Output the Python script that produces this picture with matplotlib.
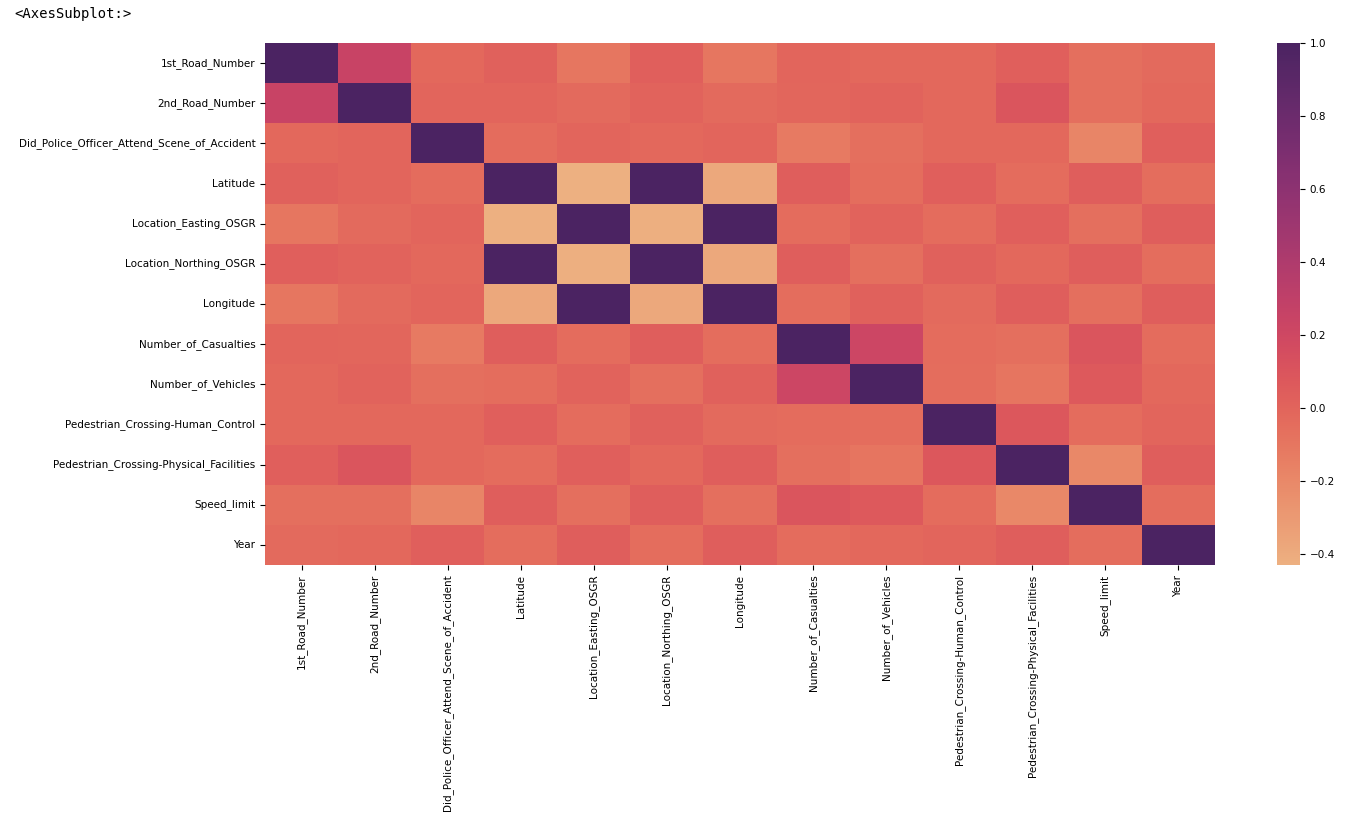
import numpy as np
import pandas as pd
import matplotlib
matplotlib.use("Agg")
import matplotlib.pyplot as plt
import seaborn as sns

cols = ["1st_Road_Number", "2nd_Road_Number", "Did_Police_Officer_Attend_Scene_of_Accident",
        "Latitude", "Location_Easting_OSGR", "Location_Northing_OSGR", "Longitude",
        "Number_of_Casualties", "Number_of_Vehicles", "Pedestrian_Crossing-Human_Control",
        "Pedestrian_Crossing-Physical_Facilities", "Speed_limit", "Year"]

# upper triangle of the correlation matrix, row by row
upper = [
    [0.25, -0.02, 0.02, -0.10, 0.03, -0.10, 0.00, -0.02, -0.02, 0.03, -0.06, -0.03],
    [0.00, 0.00, -0.03, 0.01, -0.03, -0.01, 0.01, -0.02, 0.10, -0.06, -0.02],
    [-0.04, 0.00, -0.02, 0.00, -0.12, -0.06, -0.02, -0.02, -0.18, 0.03],
    [-0.43, 1.00, -0.38, 0.04, -0.05, 0.03, -0.04, 0.04, -0.05],
    [-0.42, 1.00, -0.04, 0.01, -0.04, 0.03, -0.06, 0.04],
    [-0.38, 0.04, -0.06, 0.02, -0.02, 0.04, -0.05],
    [-0.05, 0.02, -0.03, 0.04, -0.06, 0.04],
    [0.22, -0.04, -0.06, 0.10, -0.04],
    [-0.05, -0.09, 0.07, -0.02],
    [0.08, -0.04, 0.00],
    [-0.20, 0.04],
    [-0.05],
]

n = len(cols)
corr = np.eye(n)
for i, row in enumerate(upper):
    for k, v in enumerate(row):
        j = i + 1 + k
        corr[i, j] = v
        corr[j, i] = v
df = pd.DataFrame(corr, index=cols, columns=cols)

fig = plt.figure(figsize=(13.65, 8.35), dpi=100)
ax = fig.add_axes([265/1365, 1 - 565/835, 950/1365, 522/835])
cax = fig.add_axes([1277/1365, 1 - 565/835, 23/1365, 522/835])
sns.heatmap(df, cmap="flare", ax=ax, cbar_ax=cax)
ax.tick_params(labelsize=7.5)
cax.tick_params(labelsize=7.5)
fig.text(14/1365, 1 - 14/835, "<AxesSubplot:>", family="DejaVu Sans Mono", fontsize=10, va="center")

fig.savefig("out.png", dpi=100, facecolor="white")
